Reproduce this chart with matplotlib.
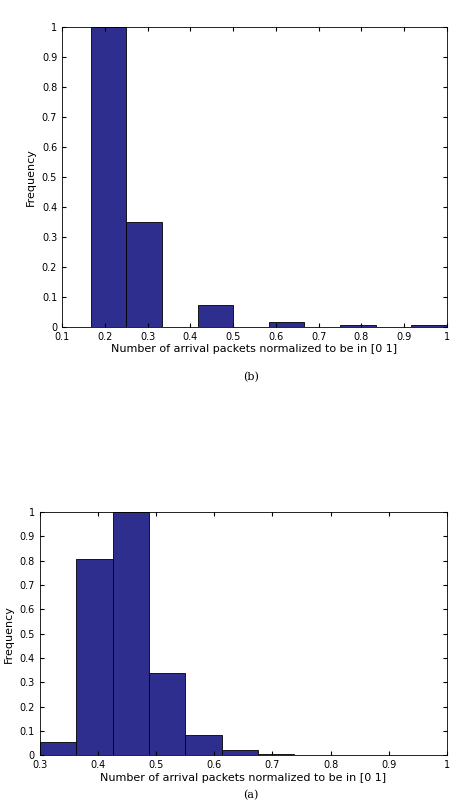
import numpy as np
import matplotlib
matplotlib.use("Agg")
import matplotlib.pyplot as plt

# top panel (b)
b_left = [1/6, 3/12, 5/12, 7/12, 9/12, 11/12]
b_freq = [1.0, 0.35, 0.072, 0.015, 0.005, 0.005]
b_width = 1/12

# bottom panel (a)
a_left = [0.3, 0.3625, 0.425, 0.4875, 0.55, 0.6125, 0.675, 0.7375, 0.8, 0.8625, 0.925]
a_freq = [0.055, 0.805, 1.0, 0.34, 0.082, 0.022, 0.007, 0.003, 0.001, 0.001, 0.001]
a_width = 0.0625

barcol = "#2e2e8e"
plt.rcParams["font.family"] = "DejaVu Sans"

fig = plt.figure(figsize=(4.74, 8.01), dpi=100)

def panel(ax, left, freq, width, xlim, xticks):
    ax.bar(left, freq, width=width, align="edge", color=barcol, edgecolor="black", linewidth=0.6)
    ax.set_xlim(*xlim)
    ax.set_ylim(0, 1)
    ax.set_xticks(xticks)
    ax.set_xticklabels(["%g" % t for t in xticks])
    ax.set_yticks(np.arange(0, 1.01, 0.1))
    ax.set_yticklabels(["0"] + ["%g" % t for t in np.arange(0.1, 0.95, 0.1)] + ["1"])
    ax.tick_params(direction="in", top=True, right=True, labelsize=7, length=3)
    ax.set_xlabel("Number of arrival packets normalized to be in [0 1]", fontsize=8, labelpad=2)
    ax.set_ylabel("Frequency", fontsize=8)
    for s in ax.spines.values():
        s.set_linewidth(0.6)

ax1 = fig.add_axes([0.131, 0.592, 0.812, 0.374])
panel(ax1, b_left, b_freq, b_width, (0.1, 1), np.arange(0.1, 1.01, 0.1))
ax2 = fig.add_axes([0.084, 0.057, 0.859, 0.304])
panel(ax2, a_left, a_freq, a_width, (0.3, 1), np.arange(0.3, 1.01, 0.1))

fig.text(0.53, 0.525, "(b)", ha="center", fontsize=8, family="DejaVu Serif")
fig.text(0.53, 0.003, "(a)", ha="center", fontsize=8, family="DejaVu Serif")

fig.savefig("out.png", dpi=100)
